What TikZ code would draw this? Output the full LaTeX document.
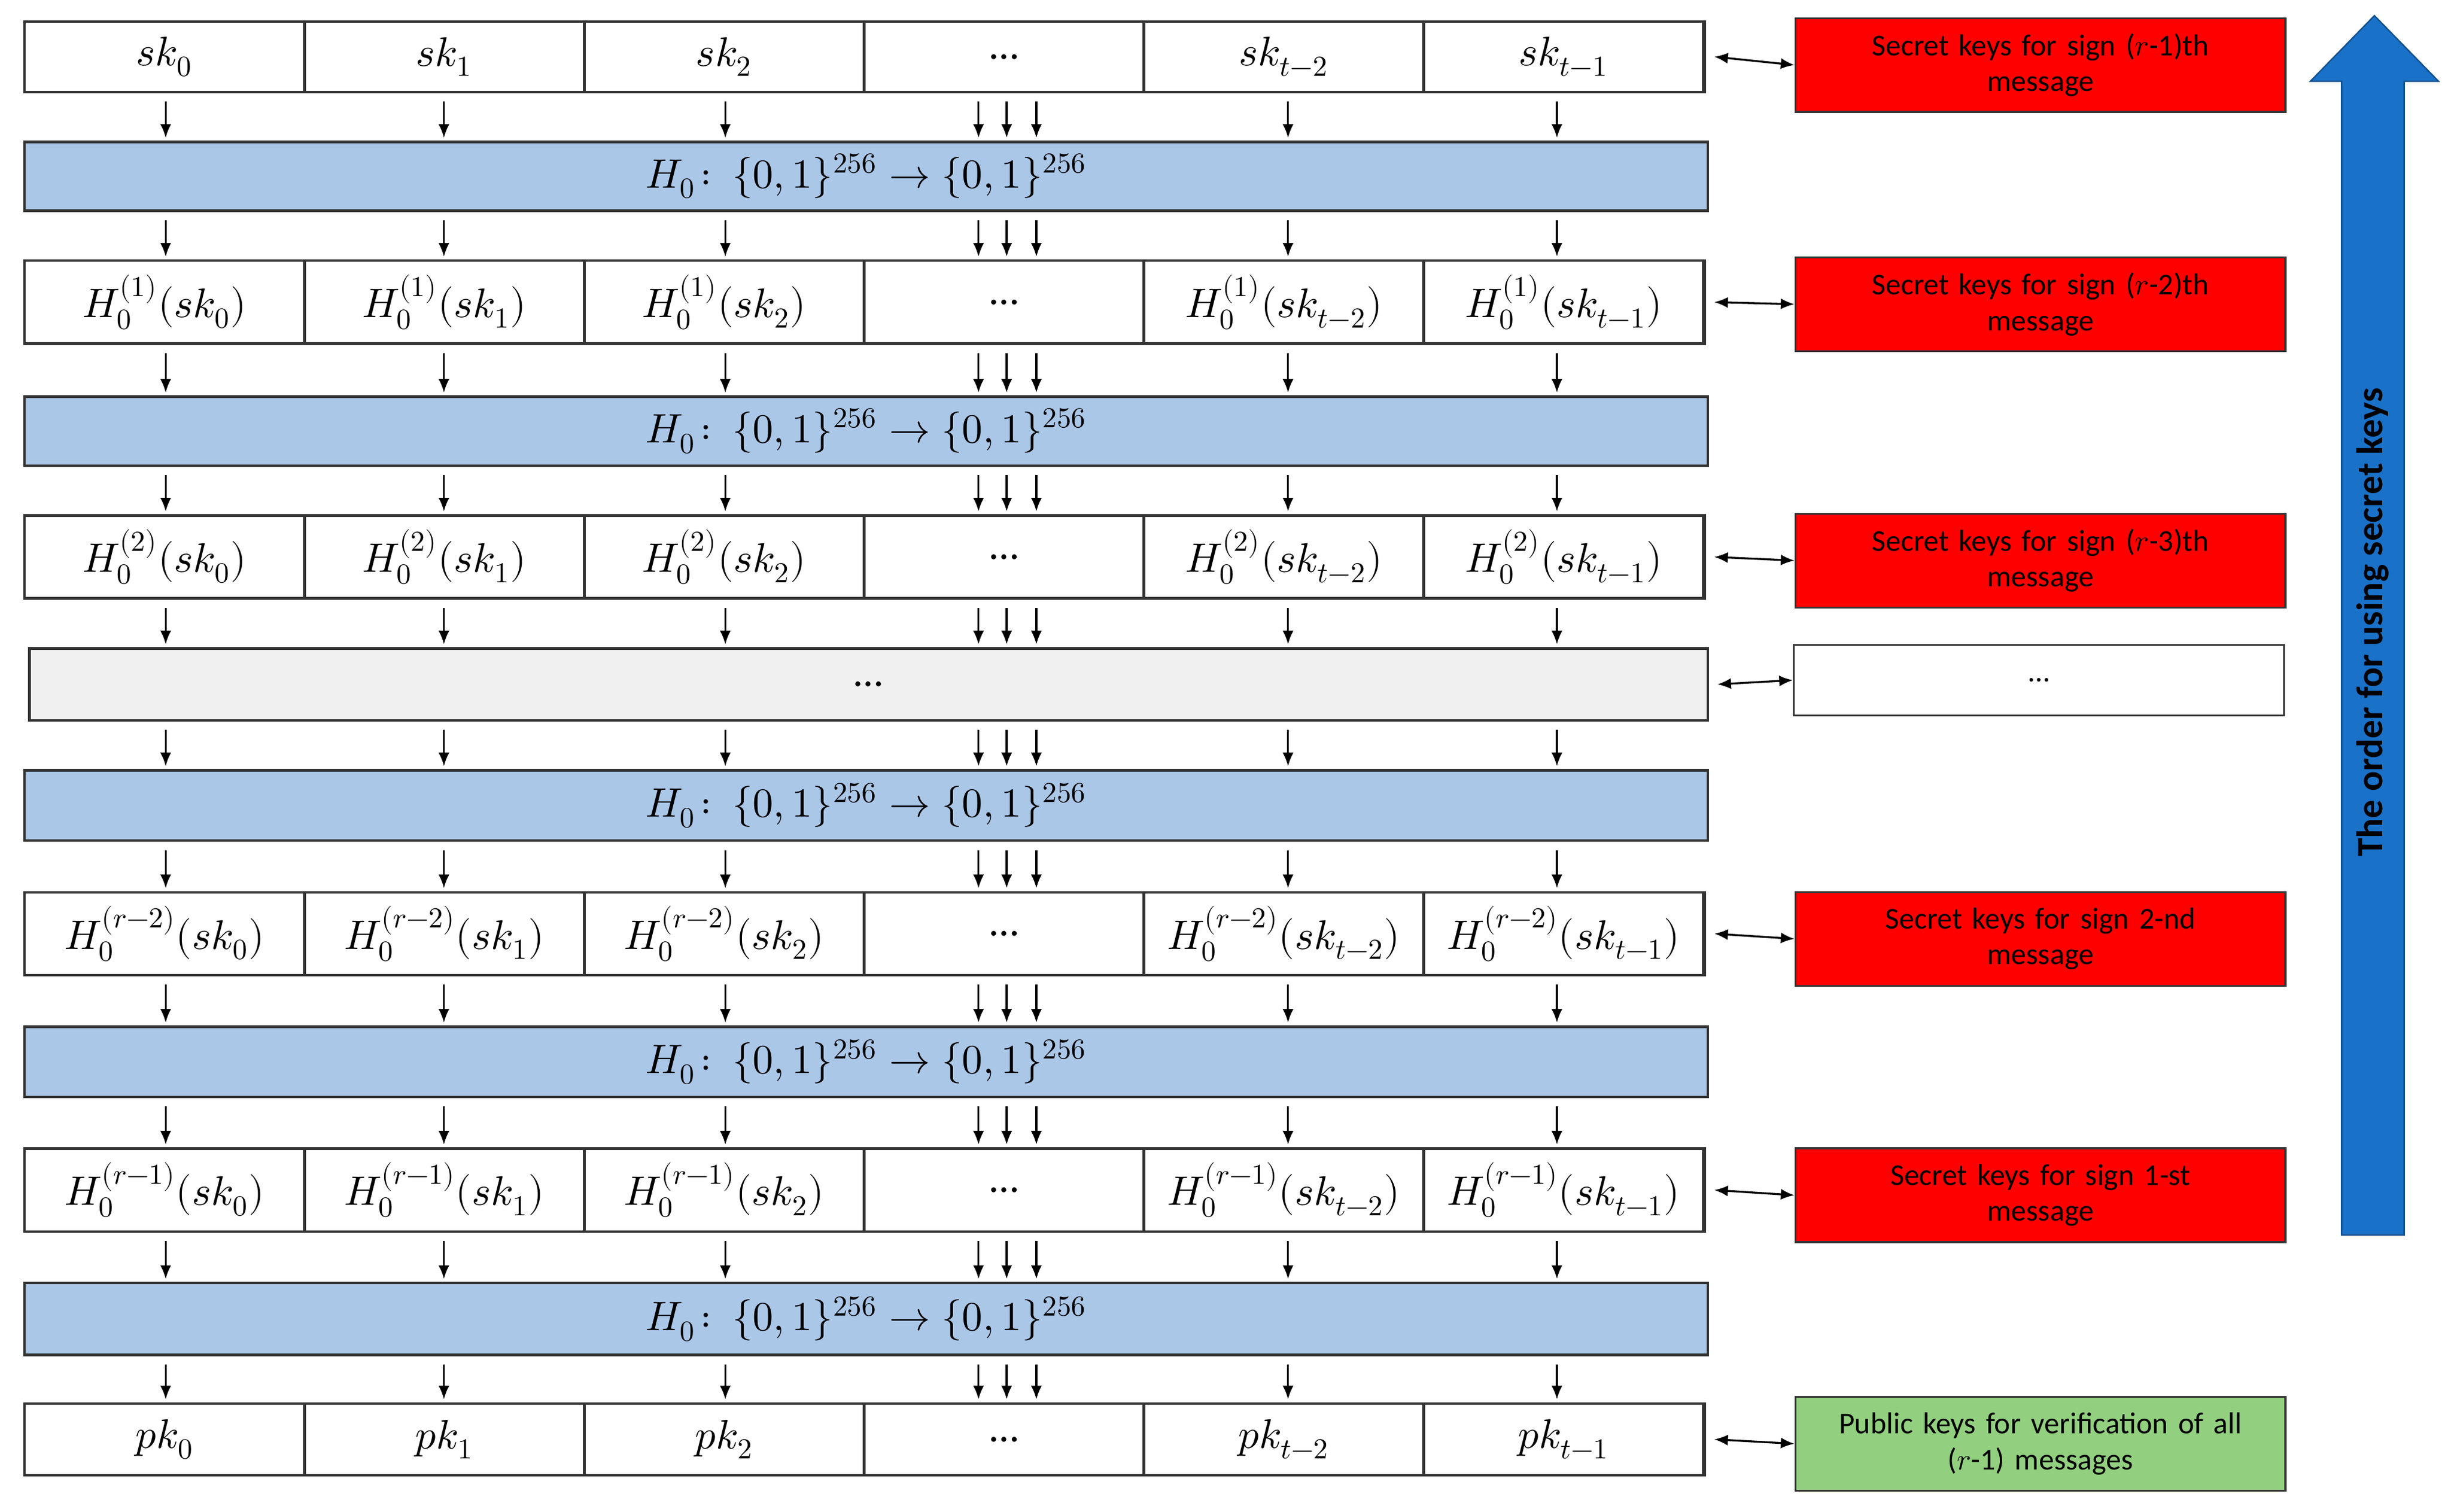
\documentclass[tikz,border=0pt]{standalone}
\usepackage{fontspec}
\setmainfont{Carlito}
\usepackage{unicode-math}
\setmathfont{Latin Modern Math}
\usetikzlibrary{arrows.meta}
\definecolor{barblue}{RGB}{170,199,232}
\definecolor{arrblue}{RGB}{25,113,200}
\definecolor{lblgreen}{RGB}{146,208,128}
\definecolor{grayrow}{RGB}{240,240,240}
\tikzset{
  box/.style={draw=black!80,line width=0.9pt,anchor=north west,inner sep=0pt,font=\fontsize{15}{18}\selectfont},
  lbl/.style={draw=black!80,line width=0.7pt,anchor=north west,inner sep=1pt,align=center,text width=6.2cm,font=\fontsize{11}{13}\selectfont},
  arr/.style={-{Latex[length=5pt,width=4pt]},line width=0.7pt},
  darr/.style={{Latex[length=5pt,width=4pt]}-{Latex[length=5pt,width=4pt]},line width=0.7pt}
}
\begin{document}
\begin{tikzpicture}[x=0.02cm,y=-0.02cm]
\useasboundingbox (0,0) rectangle (1568,967);
\foreach \i/\t/\b/\ty in {1/13/58/r,2/90/134/b,3/166/219/r,4/253/297/b,5/329/382/r,6/414/460/g,7/492/537/b,8/570/623/r,9/656/701/b,10/734/787/r,11/820/866/b,12/897/943/r}{
  \pgfmathsetmacro\hh{(\b-\t)*0.02}
  \if\ty b
    \node[box,fill=barblue,minimum width=21.54cm,minimum height=\hh cm] (L\i) at (15,\t) {$H_0\!:\ \{0,1\}^{256}\rightarrow\{0,1\}^{256}$};
  \else\if\ty g
    \node[box,fill=grayrow,minimum width=21.48cm,minimum height=\hh cm] (L\i) at (18,\t) {\ldots};
  \else
    \node[box,minimum width=21.5cm,minimum height=\hh cm] (L\i) at (15,\t) {};
  \fi\fi
}
\foreach \c [count=\j] in {$sk_0$,$sk_1$,$sk_2$,{\ldots},$sk_{t-2}$,$sk_{t-1}$}{
  \path (L1.north west) ++({(\j-1)*179},0) node[box,minimum width=3.58cm,minimum height=0.9cm] (c1-\j) {\c};}
\foreach \c [count=\j] in {$H_0^{(1)}(sk_0)$,$H_0^{(1)}(sk_1)$,$H_0^{(1)}(sk_2)$,{\ldots},$H_0^{(1)}(sk_{t-2})$,$H_0^{(1)}(sk_{t-1})$}{
  \path (L3.north west) ++({(\j-1)*179},0) node[box,minimum width=3.58cm,minimum height=1.06cm] (c3-\j) {\c};}
\foreach \c [count=\j] in {$H_0^{(2)}(sk_0)$,$H_0^{(2)}(sk_1)$,$H_0^{(2)}(sk_2)$,{\ldots},$H_0^{(2)}(sk_{t-2})$,$H_0^{(2)}(sk_{t-1})$}{
  \path (L5.north west) ++({(\j-1)*179},0) node[box,minimum width=3.58cm,minimum height=1.06cm] (c5-\j) {\c};}
\foreach \c [count=\j] in {$H_0^{(r-2)}(sk_0)$,$H_0^{(r-2)}(sk_1)$,$H_0^{(r-2)}(sk_2)$,{\ldots},$H_0^{(r-2)}(sk_{t-2})$,$H_0^{(r-2)}(sk_{t-1})$}{
  \path (L8.north west) ++({(\j-1)*179},0) node[box,minimum width=3.58cm,minimum height=1.06cm] (c8-\j) {\c};}
\foreach \c [count=\j] in {$H_0^{(r-1)}(sk_0)$,$H_0^{(r-1)}(sk_1)$,$H_0^{(r-1)}(sk_2)$,{\ldots},$H_0^{(r-1)}(sk_{t-2})$,$H_0^{(r-1)}(sk_{t-1})$}{
  \path (L10.north west) ++({(\j-1)*179},0) node[box,minimum width=3.58cm,minimum height=1.06cm] (c10-\j) {\c};}
\foreach \c [count=\j] in {$pk_0$,$pk_1$,$pk_2$,{\ldots},$pk_{t-2}$,$pk_{t-1}$}{
  \path (L12.north west) ++({(\j-1)*179},0) node[box,minimum width=3.58cm,minimum height=0.92cm] (c12-\j) {\c};}
\foreach \x [count=\k] in {106,284,464,626,644,663,824,996}{\coordinate (x\k) at (\x,0);}
\foreach \i [evaluate=\i as \n using int(\i+1)] in {1,...,11}{
  \foreach \k in {1,...,8}{
    \draw[arr] ([yshift=-3pt]L\i.south -| x\k) -- ([yshift=1pt]L\n.north -| x\k);
  }}
\node[lbl,fill=red,minimum height=1.2cm] (R1) at (1148,11) {Secret keys for sign ($r$-1)th\\message};
\node[lbl,fill=red,minimum height=1.2cm] (R3) at (1148,164) {Secret keys for sign ($r$-2)th\\message};
\node[lbl,fill=red,minimum height=1.2cm] (R5) at (1148,328) {Secret keys for sign ($r$-3)th\\message};
\node[lbl,fill=white,minimum height=0.9cm] (R6) at (1147,412) {\ldots};
\node[lbl,fill=red,minimum height=1.2cm] (R8) at (1148,570) {Secret keys for sign 2-nd\\message};
\node[lbl,fill=red,minimum height=1.2cm] (R10) at (1148,734) {Secret keys for sign 1-st\\message};
\node[lbl,fill=lblgreen,minimum height=1.2cm] (R12) at (1148,893) {Public keys for verification of all\\($r$-1) messages};
\foreach \i in {1,3,5,6,8,10,12}{\draw[darr] ([xshift=3pt]L\i.east) -- (R\i.west);}
\fill[arrblue,draw=arrblue!70!black,line width=0.5pt] (1498,790) -- (1498,52) -- (1478,52) -- (1519,10) -- (1560,52) -- (1538,52) -- (1538,790) -- cycle;
\node[rotate=90,font=\bfseries\fontsize{13.5}{16}\selectfont] (ord) at (1518,398) {The order for using secret keys};
\end{tikzpicture}
\end{document}
